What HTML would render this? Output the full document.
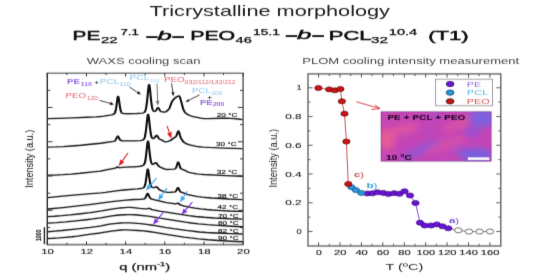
<!DOCTYPE html>
<html><head><meta charset="utf-8"><title>Tricrystalline morphology</title>
<style>
html,body{margin:0;padding:0;background:#fff;}
body{width:550px;height:280px;overflow:hidden;}
svg{display:block;font-family:'Liberation Sans', Arial, sans-serif;}
</style></head><body>
<svg width="550" height="280" viewBox="0 0 550 280">
<defs><filter id="gb" color-interpolation-filters="sRGB" x="0" y="0" width="550" height="280" filterUnits="userSpaceOnUse"><feConvolveMatrix order="3" kernelMatrix="0.010 0.118 0.010 0.053 0.618 0.053 0.010 0.118 0.010" edgeMode="duplicate" preserveAlpha="true"/></filter></defs>
<g filter="url(#gb)">
<rect width="550" height="280" fill="#fff"/>
<text x="149.6" y="16.3" font-size="13.9" fill="#1c1c1c" textLength="240.4" lengthAdjust="spacingAndGlyphs">Tricrystalline morphology</text>
<text x="72.6" y="39.7" font-size="12" fill="#0a0a0a" textLength="27.6" lengthAdjust="spacingAndGlyphs" stroke="#0a0a0a" stroke-width="0.45">PE</text>
<text x="100.9" y="42.8" font-size="8.8" fill="#0a0a0a" textLength="16.8" lengthAdjust="spacingAndGlyphs" stroke="#0a0a0a" stroke-width="0.25">22</text>
<text x="120.4" y="35.4" font-size="8.2" fill="#0a0a0a" textLength="18.4" lengthAdjust="spacingAndGlyphs" stroke="#0a0a0a" stroke-width="0.25">7.1</text>
<text x="145.6" y="41.8" font-size="18" fill="#0a0a0a" font-weight="bold" textLength="13.0" lengthAdjust="spacingAndGlyphs">–</text>
<text x="157.2" y="39.7" font-size="12.4" fill="#0a0a0a" font-style="italic" textLength="14.6" lengthAdjust="spacingAndGlyphs" stroke="#0a0a0a" stroke-width="0.4">b</text>
<text x="171.4" y="41.8" font-size="18" fill="#0a0a0a" font-weight="bold" textLength="13.2" lengthAdjust="spacingAndGlyphs">–</text>
<text x="190.2" y="39.7" font-size="12" fill="#0a0a0a" textLength="45" lengthAdjust="spacingAndGlyphs" stroke="#0a0a0a" stroke-width="0.45">PEO</text>
<text x="235.6" y="42.8" font-size="8.8" fill="#0a0a0a" textLength="16.2" lengthAdjust="spacingAndGlyphs" stroke="#0a0a0a" stroke-width="0.25">46</text>
<text x="253.0" y="35.0" font-size="8.2" fill="#0a0a0a" textLength="26.8" lengthAdjust="spacingAndGlyphs" stroke="#0a0a0a" stroke-width="0.25">15.1</text>
<text x="285.0" y="41.2" font-size="18" fill="#0a0a0a" font-weight="bold" textLength="13.0" lengthAdjust="spacingAndGlyphs">–</text>
<text x="297.0" y="39.2" font-size="12.4" fill="#0a0a0a" font-style="italic" textLength="14.4" lengthAdjust="spacingAndGlyphs" stroke="#0a0a0a" stroke-width="0.4">b</text>
<text x="311.4" y="41.2" font-size="18" fill="#0a0a0a" font-weight="bold" textLength="13.2" lengthAdjust="spacingAndGlyphs">–</text>
<text x="328.8" y="39.7" font-size="12" fill="#0a0a0a" textLength="42.8" lengthAdjust="spacingAndGlyphs" stroke="#0a0a0a" stroke-width="0.45">PCL</text>
<text x="371.0" y="42.8" font-size="8.8" fill="#0a0a0a" textLength="17" lengthAdjust="spacingAndGlyphs" stroke="#0a0a0a" stroke-width="0.25">32</text>
<text x="388.8" y="35.0" font-size="8.2" fill="#0a0a0a" textLength="28.4" lengthAdjust="spacingAndGlyphs" stroke="#0a0a0a" stroke-width="0.25">10.4</text>
<text x="428.2" y="39.7" font-size="12" fill="#0a0a0a" textLength="40.4" lengthAdjust="spacingAndGlyphs" stroke="#0a0a0a" stroke-width="0.45">(T1)</text>
<text x="86.8" y="63.6" font-size="8.8" fill="#444" textLength="113.6" lengthAdjust="spacingAndGlyphs">WAXS cooling scan</text>
<text x="302.2" y="63.6" font-size="8.8" fill="#444" textLength="217" lengthAdjust="spacingAndGlyphs">PLOM cooling intensity measurement</text>
<path d="M46.599999999999994 73.2H243.79999999999998M46.599999999999994 244.6H243.79999999999998" stroke="#7a7a7a" stroke-width="1.6" fill="none"/>
<path d="M47.3 73.2V244.6" stroke="#2a2a2a" stroke-width="1.4" fill="none"/>
<path d="M243.1 73.2V244.6" stroke="#555" stroke-width="1.4" fill="none"/>
<path d="M47.30 244.6v-3.2M47.30 73.2v3.2M66.88 244.6v-1.8M66.88 73.2v1.8M86.46 244.6v-3.2M86.46 73.2v3.2M106.04 244.6v-1.8M106.04 73.2v1.8M125.62 244.6v-3.2M125.62 73.2v3.2M145.20 244.6v-1.8M145.20 73.2v1.8M164.78 244.6v-3.2M164.78 73.2v3.2M184.36 244.6v-1.8M184.36 73.2v1.8M203.94 244.6v-3.2M203.94 73.2v3.2M223.52 244.6v-1.8M223.52 73.2v1.8M243.10 244.6v-3.2M243.10 73.2v3.2M47.3 90.34h3.0M243.1 90.34h-3.0M47.3 107.48h5.2M243.1 107.48h-5.2M47.3 124.62h3.0M243.1 124.62h-3.0M47.3 141.76h5.2M243.1 141.76h-5.2M47.3 158.90h3.0M243.1 158.90h-3.0M47.3 176.04h5.2M243.1 176.04h-5.2M47.3 193.18h3.0M243.1 193.18h-3.0M47.3 210.32h5.2M243.1 210.32h-5.2M47.3 227.46h3.0M243.1 227.46h-3.0" stroke="#333" stroke-width="1" fill="none"/>
<text x="47.599999999999994" y="254.1" font-size="8.0" fill="#1a1a1a" text-anchor="middle" textLength="12.6" lengthAdjust="spacingAndGlyphs" stroke="#1a1a1a" stroke-width="0.15">10</text>
<text x="86.76" y="254.1" font-size="8.0" fill="#1a1a1a" text-anchor="middle" textLength="12.6" lengthAdjust="spacingAndGlyphs" stroke="#1a1a1a" stroke-width="0.15">12</text>
<text x="125.92" y="254.1" font-size="8.0" fill="#1a1a1a" text-anchor="middle" textLength="12.6" lengthAdjust="spacingAndGlyphs" stroke="#1a1a1a" stroke-width="0.15">14</text>
<text x="165.08000000000004" y="254.1" font-size="8.0" fill="#1a1a1a" text-anchor="middle" textLength="12.6" lengthAdjust="spacingAndGlyphs" stroke="#1a1a1a" stroke-width="0.15">16</text>
<text x="204.24" y="254.1" font-size="8.0" fill="#1a1a1a" text-anchor="middle" textLength="12.6" lengthAdjust="spacingAndGlyphs" stroke="#1a1a1a" stroke-width="0.15">18</text>
<text x="243.40000000000003" y="254.1" font-size="8.0" fill="#1a1a1a" text-anchor="middle" textLength="12.6" lengthAdjust="spacingAndGlyphs" stroke="#1a1a1a" stroke-width="0.15">20</text>
<text x="119.2" y="269.9" font-size="9.8" fill="#1a1a1a" textLength="51" lengthAdjust="spacingAndGlyphs" stroke="#1a1a1a" stroke-width="0.25">q (nm<tspan dy="-4" font-size="6.2">-1</tspan><tspan dy="4">)</tspan></text>
<text transform="translate(32.9 187.8) rotate(-90)" font-size="10.4" fill="#111" textLength="58.0" lengthAdjust="spacingAndGlyphs">Intensity (a.u.)</text>
<path d="M44.4 227.3V244.2" stroke="#222" stroke-width="1.4"/>
<text transform="translate(41.0 241.0) rotate(-90)" font-size="6.6" fill="#111" stroke="#111" stroke-width="0.3" textLength="11.2" lengthAdjust="spacingAndGlyphs">1000</text>
<g fill="none" stroke="#111" stroke-width="1.35" stroke-linejoin="round" transform="scale(1.6 1)">
<path d="M29.87 118.58 37.05 118.30 45.18 117.88 54.52 117.29 59.94 116.83 62.92 116.49 64.95 116.11 68.61 115.17 69.83 114.79 70.64 114.47 71.18 114.09 71.59 113.49 71.86 112.74 72.13 111.52 72.40 109.67 72.67 107.12 73.48 97.77 73.62 96.82 73.75 96.32 73.89 96.33 74.16 97.82 74.97 106.95 75.38 110.33 75.79 112.20 76.06 112.85 76.33 113.21 76.87 113.51 78.09 113.67 79.98 113.71 83.23 113.64 85.54 113.53 87.30 113.37 88.65 113.11 89.60 112.77 90.01 112.49 90.28 112.19 90.68 111.37 91.09 109.70 91.36 107.81 91.90 101.51 92.85 86.54 92.98 85.31 93.12 84.65 93.26 84.63 93.39 85.24 93.66 88.08 94.47 101.07 94.88 105.99 95.15 108.19 95.42 109.64 95.83 110.81 96.23 111.29 96.51 111.40 96.78 111.37 97.18 111.06 97.59 110.33 98.40 108.14 98.67 107.77 98.81 107.76 98.94 107.87 99.21 108.40 100.03 110.60 100.30 111.09 100.70 111.53 101.11 111.74 101.52 111.86 102.87 112.04 103.41 111.90 103.95 111.47 104.77 110.43 105.71 108.78 106.12 107.44 107.34 102.19 107.75 101.09 108.42 99.61 109.24 98.24 110.32 96.99 110.86 96.47 111.27 96.17 111.67 96.00 111.94 95.96 112.08 96.07 112.22 96.37 112.49 97.39 113.43 102.50 114.38 108.29 114.65 109.47 115.19 111.24 115.74 112.54 116.55 113.67 117.63 114.77 118.99 115.73 120.21 116.36 121.56 116.88 125.49 118.15 127.25 118.53 128.06 118.59 129.69 118.57 138.35 118.23 142.01 118.22 144.04 118.36 146.21 118.61 148.65 118.99 151.62 119.55"/>
<path d="M29.87 147.18 34.61 146.95 39.49 146.55 44.77 145.98 50.60 145.22 63.05 143.28 70.77 141.40 71.18 141.27 71.59 141.04 71.86 140.77 72.13 140.33 72.53 139.29 73.21 136.89 73.48 136.25 73.62 136.15 73.75 136.21 74.02 136.75 74.70 138.99 75.11 139.96 75.51 140.47 76.06 140.74 77.00 140.85 78.90 140.90 84.86 140.82 87.57 140.61 88.38 140.45 89.06 140.20 89.60 139.77 90.01 139.08 90.41 137.67 90.68 136.07 91.22 130.61 92.17 116.77 92.44 114.65 92.58 114.40 92.71 114.73 92.98 116.96 93.80 128.71 94.34 134.57 94.61 136.33 94.88 137.47 95.15 138.14 95.29 138.34 95.56 138.56 95.69 138.59 95.96 138.52 96.37 138.11 96.64 137.64 97.45 135.83 97.72 135.50 97.86 135.46 98.00 135.51 98.27 135.88 99.35 138.48 99.62 138.93 100.03 139.39 100.97 140.02 102.33 141.29 103.01 141.76 103.41 141.87 103.82 141.85 104.77 141.54 105.99 140.83 106.93 140.14 108.69 137.93 109.78 136.72 110.05 136.22 110.32 135.46 111.27 131.33 111.40 131.03 111.54 130.98 111.67 131.20 111.81 131.67 112.49 135.47 112.89 137.33 113.16 138.19 114.52 141.70 114.92 142.34 116.01 143.38 117.09 144.13 118.45 144.81 120.61 145.68 122.64 146.31 124.54 146.73 126.98 147.06 130.90 147.43 139.98 148.08 146.07 148.45 151.62 148.69"/>
<path d="M29.87 175.20 34.48 175.06 39.35 174.70 44.50 174.12 50.19 173.29 58.31 171.88 62.65 171.06 64.00 170.73 69.56 168.89 71.99 168.17 72.40 167.92 73.08 167.14 73.35 166.99 73.62 167.10 74.30 167.60 74.57 167.66 74.97 167.65 78.63 167.20 84.05 166.76 85.94 166.55 87.70 166.22 88.92 165.75 89.60 165.23 90.01 164.60 90.41 163.31 90.68 161.81 90.95 159.57 91.22 156.49 92.04 144.44 92.31 141.72 92.44 141.13 92.58 141.16 92.85 142.97 93.66 154.62 94.07 159.35 94.34 161.45 94.75 163.30 95.15 164.11 95.42 164.31 95.69 164.33 95.96 164.19 96.23 163.92 97.05 162.79 97.32 162.65 97.45 162.69 97.59 162.80 97.86 163.23 98.81 165.40 99.49 166.45 100.30 167.21 102.74 168.86 103.82 169.38 104.63 169.50 106.12 169.42 108.42 169.18 108.97 169.08 109.37 168.89 109.78 168.37 110.05 167.69 110.45 165.97 111.00 163.04 111.27 162.16 111.40 162.09 111.54 162.28 111.67 162.72 112.62 167.52 112.89 168.33 113.16 168.83 113.57 169.20 114.38 169.56 115.06 169.99 116.96 171.57 117.63 172.06 118.17 172.34 119.66 172.91 121.42 173.48 123.19 173.92 124.67 174.19 127.25 174.51 141.06 175.61 151.62 176.28"/>
<path d="M29.87 197.61 37.59 196.31 45.86 195.07 55.06 193.84 63.19 192.89 65.90 192.37 73.89 190.57 77.27 190.04 85.94 188.86 87.84 188.49 89.06 188.08 89.60 187.75 90.01 187.26 90.41 186.23 90.68 184.98 90.95 183.08 91.22 180.44 92.04 170.69 92.17 169.68 92.31 169.13 92.44 169.12 92.58 169.64 92.85 171.98 93.39 178.68 93.80 182.82 94.07 184.68 94.47 186.32 94.75 186.90 95.02 187.24 95.42 187.53 95.83 187.67 96.23 187.66 96.51 187.56 97.45 186.82 97.72 186.79 97.86 186.87 98.13 187.18 98.94 188.69 99.49 189.49 100.16 190.15 101.11 190.78 103.28 191.85 103.95 192.11 104.63 192.28 105.17 192.33 106.66 192.29 108.15 192.19 108.97 192.07 109.51 191.78 109.91 191.22 110.32 190.16 110.86 188.31 111.13 187.74 111.27 187.68 111.40 187.80 111.54 188.08 112.49 191.21 112.76 191.76 113.16 192.20 114.65 192.90 116.55 194.08 117.36 194.51 119.80 195.42 121.97 196.12 124.00 196.65 126.16 197.08 129.01 197.54 132.26 197.96 143.09 199.04 147.56 199.37 151.62 199.59"/>
<path d="M29.87 209.03 39.35 207.56 50.05 205.67 57.10 204.33 69.83 201.65 74.16 200.83 78.90 200.09 81.74 199.71 84.05 199.50 88.24 199.26 89.60 199.08 90.01 198.94 90.28 198.75 90.68 198.20 91.09 197.15 91.90 194.05 92.17 193.50 92.31 193.48 92.58 193.94 93.39 196.92 93.80 197.95 94.07 198.38 94.34 198.65 95.02 199.07 96.78 199.90 102.74 202.15 104.23 202.61 109.51 203.83 110.05 203.75 110.86 203.23 111.13 203.18 111.27 203.24 111.54 203.50 112.49 204.74 113.16 205.20 115.33 206.08 119.12 207.31 121.83 208.04 125.49 208.83 129.14 209.50 132.53 210.00 138.35 210.57 143.63 210.99 147.83 211.22 151.62 211.30"/>
<path d="M29.87 216.66 34.21 216.25 38.81 215.68 43.82 214.94 49.24 214.01 56.28 212.69 58.45 212.22 63.46 210.95 69.96 209.08 72.94 208.35 74.70 208.04 78.09 207.60 79.85 207.44 81.47 207.40 83.23 207.57 87.30 208.36 90.95 208.86 91.77 208.83 92.17 208.70 92.85 208.36 93.26 208.30 93.66 208.52 94.61 209.34 95.15 209.64 99.62 211.09 104.90 212.46 117.90 215.65 122.10 216.53 127.52 217.29 133.88 217.96 143.63 218.74 151.62 219.19"/>
<path d="M29.87 223.16 35.29 222.61 41.12 221.85 47.48 220.85 55.06 219.52 58.04 218.94 62.92 217.80 69.96 215.93 73.21 215.24 74.84 215.02 78.22 214.72 80.25 214.61 82.01 214.61 83.91 214.74 85.94 214.99 92.44 216.14 94.61 216.68 99.89 218.17 115.87 222.14 119.66 222.99 124.13 223.85 129.55 224.67 135.92 225.44 144.31 226.24 151.62 226.78"/>
<path d="M29.87 231.74 34.21 231.19 38.68 230.54 48.56 228.86 56.55 227.34 60.21 226.55 63.19 225.82 67.66 224.46 69.69 223.96 73.21 223.30 75.24 223.00 77.00 222.83 78.76 222.81 81.47 222.95 85.54 223.32 87.97 223.69 91.63 224.37 95.29 225.22 103.95 227.62 108.42 228.71 116.41 230.44 124.67 231.98 129.14 232.52 134.97 233.02 144.04 233.62 151.62 233.99"/>
<path d="M29.87 238.48 33.13 238.26 36.78 237.90 41.12 237.36 45.18 236.77 48.43 236.12 55.74 234.41 62.65 232.97 68.61 231.31 70.77 230.80 75.79 230.04 77.41 229.91 79.04 229.91 81.61 230.06 86.21 230.48 89.60 230.94 92.85 231.49 96.64 232.35 104.90 234.56 114.92 237.06 118.99 237.95 124.00 238.85 130.09 239.74 136.32 240.48 144.58 241.26 151.62 241.78"/>
</g>
<text x="216.8" y="116.60000000000001" font-size="5.9" fill="#111" textLength="20.6" lengthAdjust="spacingAndGlyphs" stroke="#111" stroke-width="0.15">20 °C</text>
<text x="216.0" y="146.4" font-size="5.9" fill="#111" textLength="20.6" lengthAdjust="spacingAndGlyphs" stroke="#111" stroke-width="0.15">30 °C</text>
<text x="216.7" y="174.4" font-size="5.9" fill="#111" textLength="20.6" lengthAdjust="spacingAndGlyphs" stroke="#111" stroke-width="0.15">32 °C</text>
<text x="217.5" y="197.8" font-size="5.9" fill="#111" textLength="20.6" lengthAdjust="spacingAndGlyphs" stroke="#111" stroke-width="0.15">38 °C</text>
<text x="217.5" y="209.3" font-size="5.9" fill="#111" textLength="20.6" lengthAdjust="spacingAndGlyphs" stroke="#111" stroke-width="0.15">42 °C</text>
<text x="218.0" y="217.6" font-size="5.9" fill="#111" textLength="20.6" lengthAdjust="spacingAndGlyphs" stroke="#111" stroke-width="0.15">70 °C</text>
<text x="218.0" y="224.9" font-size="5.9" fill="#111" textLength="20.6" lengthAdjust="spacingAndGlyphs" stroke="#111" stroke-width="0.15">80 °C</text>
<text x="218.0" y="232.8" font-size="5.9" fill="#111" textLength="20.6" lengthAdjust="spacingAndGlyphs" stroke="#111" stroke-width="0.15">82 °C</text>
<text x="218.0" y="240.20000000000002" font-size="5.9" fill="#111" textLength="20.6" lengthAdjust="spacingAndGlyphs" stroke="#111" stroke-width="0.15">90 °C</text>
<text x="67.0" y="84.3" font-size="6.3" fill="#9468e0" font-weight="bold" textLength="12.9" lengthAdjust="spacingAndGlyphs">PE</text>
<text x="80.8" y="85.9" font-size="4.5" fill="#9468e0" font-weight="bold" textLength="11.0" lengthAdjust="spacingAndGlyphs">110</text>
<text x="94.4" y="84.4" font-size="6" fill="#222" font-weight="bold" textLength="4.4" lengthAdjust="spacingAndGlyphs">+</text>
<text x="99.8" y="84.3" font-size="6.3" fill="#86c8ee" textLength="19.4" lengthAdjust="spacingAndGlyphs">PCL</text>
<text x="119.6" y="85.9" font-size="4.5" fill="#86c8ee" textLength="11.2" lengthAdjust="spacingAndGlyphs">110</text>
<text x="129.6" y="80.2" font-size="6.3" fill="#86c8ee" textLength="19.8" lengthAdjust="spacingAndGlyphs">PCL</text>
<text x="150.0" y="82.0" font-size="4.3" fill="#86c8ee" textLength="10.0" lengthAdjust="spacingAndGlyphs">111</text>
<text x="164.0" y="82.0" font-size="6.3" fill="#e2646e" textLength="20.8" lengthAdjust="spacingAndGlyphs">PEO</text>
<text x="184.6" y="84.0" font-size="4.7" fill="#e2646e" textLength="51.0" lengthAdjust="spacingAndGlyphs">032/112/132/212</text>
<text x="192.0" y="92.6" font-size="6.3" fill="#86c8ee" textLength="18.8" lengthAdjust="spacingAndGlyphs">PCL</text>
<text x="211.2" y="94.7" font-size="4.6" fill="#86c8ee" textLength="11.2" lengthAdjust="spacingAndGlyphs">200</text>
<text x="207.4" y="99.4" font-size="6" fill="#222" font-weight="bold" textLength="4.4" lengthAdjust="spacingAndGlyphs">+</text>
<text x="200.0" y="104.7" font-size="6.3" fill="#9468e0" font-weight="bold" textLength="12.6" lengthAdjust="spacingAndGlyphs">PE</text>
<text x="212.9" y="106.4" font-size="4.5" fill="#9468e0" font-weight="bold" textLength="11.6" lengthAdjust="spacingAndGlyphs">200</text>
<text x="65.6" y="98.4" font-size="6.3" fill="#e2646e" textLength="20.6" lengthAdjust="spacingAndGlyphs">PEO</text>
<text x="87.0" y="99.9" font-size="4.6" fill="#e2646e" textLength="10.9" lengthAdjust="spacingAndGlyphs">120</text>
<path d="M99.50 100.40L110.14 103.34" stroke="#111" stroke-width="0.8" fill="none"/><path d="M114.00 104.40L109.72 104.88L110.57 101.79Z" fill="#111"/>
<path d="M129.50 87.10L137.65 92.41" stroke="#111" stroke-width="0.8" fill="none"/><path d="M141.00 94.60L136.78 93.76L138.52 91.07Z" fill="#111"/>
<path d="M157.00 83.40L157.64 100.90" stroke="#6a6a6a" stroke-width="0.9" fill="none"/><path d="M157.80 105.40L155.84 100.97L159.44 100.84Z" fill="#6a6a6a"/>
<path d="M171.60 83.40L172.84 92.24" stroke="#111" stroke-width="0.8" fill="none"/><path d="M173.40 96.20L171.26 92.46L174.43 92.02Z" fill="#111"/>
<path d="M199.60 94.80L188.80 100.35" stroke="#111" stroke-width="0.8" fill="none"/><path d="M185.60 102.00L188.16 99.11L189.44 101.60Z" fill="#111"/>
<path d="M167.10 125.80L169.36 132.63" stroke="#e02020" stroke-width="1.1" fill="none"/><path d="M171.40 138.80L166.99 133.41L171.73 131.84Z" fill="#e02020"/>
<path d="M128.00 153.00L122.37 160.91" stroke="#e02020" stroke-width="1.1" fill="none"/><path d="M118.60 166.20L120.33 159.46L124.41 162.36Z" fill="#e02020"/>
<path d="M156.50 178.20L149.91 185.85" stroke="#3aa8ee" stroke-width="1.1" fill="none"/><path d="M146.00 190.40L148.02 184.22L151.81 187.48Z" fill="#3aa8ee"/>
<path d="M167.00 188.10L161.58 195.39" stroke="#3aa8ee" stroke-width="1.1" fill="none"/><path d="M158.00 200.20L159.57 193.89L163.59 196.88Z" fill="#3aa8ee"/>
<path d="M187.40 191.20L183.35 197.22" stroke="#3aa8ee" stroke-width="1.1" fill="none"/><path d="M180.00 202.20L181.27 195.83L185.42 198.62Z" fill="#3aa8ee"/>
<path d="M192.40 202.10L185.52 210.06" stroke="#7a2fe0" stroke-width="1.1" fill="none"/><path d="M181.60 214.60L183.63 208.43L187.41 211.69Z" fill="#7a2fe0"/>
<path d="M162.90 212.80L156.90 219.84" stroke="#7a2fe0" stroke-width="1.1" fill="none"/><path d="M153.00 224.40L154.99 218.21L158.80 221.46Z" fill="#7a2fe0"/>
<rect x="308.0" y="73.9" width="192.8" height="172.1" fill="none" stroke="#5a5a5a" stroke-width="1.3"/>
<path d="M318.60 246.0v-3.8M318.60 73.9v3.8M329.31 246.0v-2.2M329.31 73.9v2.2M340.01 246.0v-3.8M340.01 73.9v3.8M350.72 246.0v-2.2M350.72 73.9v2.2M361.42 246.0v-3.8M361.42 73.9v3.8M372.13 246.0v-2.2M372.13 73.9v2.2M382.84 246.0v-3.8M382.84 73.9v3.8M393.54 246.0v-2.2M393.54 73.9v2.2M404.25 246.0v-3.8M404.25 73.9v3.8M414.95 246.0v-2.2M414.95 73.9v2.2M425.66 246.0v-3.8M425.66 73.9v3.8M436.37 246.0v-2.2M436.37 73.9v2.2M447.07 246.0v-3.8M447.07 73.9v3.8M457.78 246.0v-2.2M457.78 73.9v2.2M468.48 246.0v-3.8M468.48 73.9v3.8M479.19 246.0v-2.2M479.19 73.9v2.2M489.90 246.0v-3.8M489.90 73.9v3.8M308.0 231.50h4.6M500.8 231.50h-4.6M308.0 217.12h2.4M500.8 217.12h-2.4M308.0 202.75h4.6M500.8 202.75h-4.6M308.0 188.38h2.4M500.8 188.38h-2.4M308.0 174.00h4.6M500.8 174.00h-4.6M308.0 159.62h2.4M500.8 159.62h-2.4M308.0 145.25h4.6M500.8 145.25h-4.6M308.0 130.88h2.4M500.8 130.88h-2.4M308.0 116.50h4.6M500.8 116.50h-4.6M308.0 102.12h2.4M500.8 102.12h-2.4M308.0 87.75h4.6M500.8 87.75h-4.6" stroke="#5a5a5a" stroke-width="1" fill="none"/>
<text x="318.8" y="255.4" font-size="6.6" fill="#1a1a1a" text-anchor="middle" textLength="5.8" lengthAdjust="spacingAndGlyphs" stroke="#1a1a1a" stroke-width="0.12">0</text>
<text x="340.212" y="255.4" font-size="6.6" fill="#1a1a1a" text-anchor="middle" textLength="12.4" lengthAdjust="spacingAndGlyphs" stroke="#1a1a1a" stroke-width="0.12">20</text>
<text x="361.624" y="255.4" font-size="6.6" fill="#1a1a1a" text-anchor="middle" textLength="12.4" lengthAdjust="spacingAndGlyphs" stroke="#1a1a1a" stroke-width="0.12">40</text>
<text x="383.036" y="255.4" font-size="6.6" fill="#1a1a1a" text-anchor="middle" textLength="12.4" lengthAdjust="spacingAndGlyphs" stroke="#1a1a1a" stroke-width="0.12">60</text>
<text x="404.44800000000004" y="255.4" font-size="6.6" fill="#1a1a1a" text-anchor="middle" textLength="12.4" lengthAdjust="spacingAndGlyphs" stroke="#1a1a1a" stroke-width="0.12">80</text>
<text x="425.86" y="255.4" font-size="6.6" fill="#1a1a1a" text-anchor="middle" textLength="18.6" lengthAdjust="spacingAndGlyphs" stroke="#1a1a1a" stroke-width="0.12">100</text>
<text x="447.272" y="255.4" font-size="6.6" fill="#1a1a1a" text-anchor="middle" textLength="18.6" lengthAdjust="spacingAndGlyphs" stroke="#1a1a1a" stroke-width="0.12">120</text>
<text x="468.684" y="255.4" font-size="6.6" fill="#1a1a1a" text-anchor="middle" textLength="18.6" lengthAdjust="spacingAndGlyphs" stroke="#1a1a1a" stroke-width="0.12">140</text>
<text x="490.096" y="255.4" font-size="6.6" fill="#1a1a1a" text-anchor="middle" textLength="18.6" lengthAdjust="spacingAndGlyphs" stroke="#1a1a1a" stroke-width="0.12">160</text>
<text x="301.6" y="234.0" font-size="7.2" fill="#1a1a1a" text-anchor="end" textLength="5.2" lengthAdjust="spacingAndGlyphs" stroke="#1a1a1a" stroke-width="0.1">0</text>
<text x="301.6" y="205.25" font-size="7.2" fill="#1a1a1a" text-anchor="end" textLength="16.4" lengthAdjust="spacingAndGlyphs" stroke="#1a1a1a" stroke-width="0.1">0.2</text>
<text x="301.6" y="176.5" font-size="7.2" fill="#1a1a1a" text-anchor="end" textLength="16.4" lengthAdjust="spacingAndGlyphs" stroke="#1a1a1a" stroke-width="0.1">0.4</text>
<text x="301.6" y="147.75" font-size="7.2" fill="#1a1a1a" text-anchor="end" textLength="16.4" lengthAdjust="spacingAndGlyphs" stroke="#1a1a1a" stroke-width="0.1">0.6</text>
<text x="301.6" y="119.0" font-size="7.2" fill="#1a1a1a" text-anchor="end" textLength="16.4" lengthAdjust="spacingAndGlyphs" stroke="#1a1a1a" stroke-width="0.1">0.8</text>
<text x="301.6" y="90.25" font-size="7.2" fill="#1a1a1a" text-anchor="end" textLength="5.2" lengthAdjust="spacingAndGlyphs" stroke="#1a1a1a" stroke-width="0.1">1</text>
<text x="385.4" y="269.9" font-size="8.8" fill="#222" textLength="38.0" lengthAdjust="spacingAndGlyphs">T (ºC)</text>
<text transform="translate(276.6 187.6) rotate(-90)" font-size="10.2" fill="#222" textLength="58.6" lengthAdjust="spacingAndGlyphs">Intensity (a.u.)</text>
<defs><filter id="fb" x="-20%" y="-20%" width="140%" height="140%"><feGaussianBlur stdDeviation="3.2"/></filter><clipPath id="ic"><rect x="381.0" y="111.8" width="110.19999999999999" height="49.39999999999999"/></clipPath></defs>
<g clip-path="url(#ic)"><rect x="381.0" y="111.8" width="110.19999999999999" height="49.39999999999999" fill="#c444b6"/>
<g filter="url(#fb)">
<ellipse cx="387" cy="139" rx="8" ry="11" fill="#ea5e92" fill-opacity="0.9"/>
<ellipse cx="402" cy="130" rx="18" ry="5" fill="#e2589c" fill-opacity="0.8" transform="rotate(-15 402 130)"/>
<ellipse cx="392" cy="118" rx="7" ry="4" fill="#d452a8" fill-opacity="0.6"/>
<ellipse cx="455" cy="126" rx="14" ry="4" fill="#de58a0" fill-opacity="0.75" transform="rotate(-15 455 126)"/>
<ellipse cx="464" cy="121" rx="7" ry="4" fill="#e05a9a" fill-opacity="0.6"/>
<ellipse cx="482" cy="118" rx="13" ry="9" fill="#7662e2" fill-opacity="0.95"/>
<ellipse cx="472" cy="132" rx="9" ry="6" fill="#8e54d6" fill-opacity="0.75"/>
<ellipse cx="436" cy="116" rx="8" ry="4" fill="#a24ec8" fill-opacity="0.55"/>
<ellipse cx="420" cy="150" rx="22" ry="4" fill="#8a58d8" fill-opacity="0.85" transform="rotate(-25 420 150)"/>
<ellipse cx="447" cy="144" rx="22" ry="4" fill="#de58a0" fill-opacity="0.65" transform="rotate(-20 447 144)"/>
<ellipse cx="476" cy="155" rx="17" ry="7" fill="#7262e0" fill-opacity="0.92"/>
<ellipse cx="460" cy="150" rx="8" ry="4" fill="#8a5ad6" fill-opacity="0.6"/>
<ellipse cx="388" cy="157" rx="8" ry="4" fill="#c84cb2" fill-opacity="0.6"/>
<ellipse cx="430" cy="130" rx="5" ry="6" fill="#a850c4" fill-opacity="0.5"/>
</g></g>
<rect x="381.0" y="111.8" width="110.19999999999999" height="49.39999999999999" fill="none" stroke="#5a3a70" stroke-width="0.5"/>
<text transform="translate(387.4 120.0) scale(1.45 1)" x="0" y="0" font-size="6.6" font-weight="bold" fill="#1e0824" stroke="#1e0824" stroke-width="0.12" textLength="53.6" lengthAdjust="spacing">PE + PCL + PEO</text>
<text transform="translate(386.2 159.9) scale(1.45 1)" x="0" y="0" font-size="6.8" font-weight="bold" fill="#1e0824" stroke="#1e0824" stroke-width="0.12" textLength="17.6" lengthAdjust="spacing">10 °C</text>
<rect x="467.8" y="157.4" width="21.6" height="2.5" fill="#fff"/>
<path d="M356.4 101.8L380 108.6M375 105L380 108.6L371.4 109.5" stroke="#d83030" stroke-width="0.9" fill="none" stroke-linejoin="round"/>
<rect x="435.6" y="79.2" width="57" height="26.6" fill="#fff" stroke="#8a8a8a" stroke-width="0.8"/>
<ellipse cx="450.1" cy="84.0" rx="3.9" ry="2.6" fill="#6a18d8" stroke="#2a0a60" stroke-width="0.8"/>
<ellipse cx="450.1" cy="92.6" rx="3.9" ry="2.6" fill="#2a98dc" stroke="#0a3a60" stroke-width="0.8"/>
<ellipse cx="450.1" cy="101.3" rx="3.9" ry="2.6" fill="#c41414" stroke="#4a0606" stroke-width="0.8"/>
<text x="466.8" y="86.7" font-size="7.0" fill="#9068dc" textLength="14.2" lengthAdjust="spacingAndGlyphs">PE</text>
<text x="466.8" y="95.3" font-size="7.0" fill="#5cb4e6" textLength="21.6" lengthAdjust="spacingAndGlyphs">PCL</text>
<text x="466.8" y="104.0" font-size="7.0" fill="#d45454" textLength="23.0" lengthAdjust="spacingAndGlyphs">PEO</text>
<polyline points="318.4,88.0 329.2,89.4 334.9,90.3 340.4,89.0 341.9,101.3 344.5,113.7 346.4,141.6 348.3,184.0 351.5,187.2" fill="none" stroke="#d04040" stroke-width="0.9"/>
<polyline points="351.5,187.2 355.9,190.1 361.3,192.9 367.4,193.5" fill="none" stroke="#3a9ad8" stroke-width="0.9"/>
<polyline points="367.4,193.5 372.5,193.3 377.5,192.3 383.3,192.9 388.4,193.9 394.1,193.2 399.5,193.8 404.5,191.3 410.0,195.4 415.5,203.0 420.0,222.7 424.7,225.5 431.1,225.5 436.8,224.4 442.5,226.3 448.3,228.3" fill="none" stroke="#7a40d8" stroke-width="0.9"/>
<polyline points="448.3,228.3 458.3,230.3 469.0,231.6 479.6,231.6 490.0,231.5" fill="none" stroke="#444" stroke-width="0.7"/>
<ellipse cx="458.3" cy="230.3" rx="3.7" ry="2.5" fill="#fff" stroke="#333" stroke-width="0.7"/><ellipse cx="469.0" cy="231.6" rx="3.7" ry="2.5" fill="#fff" stroke="#333" stroke-width="0.7"/><ellipse cx="479.6" cy="231.6" rx="3.7" ry="2.5" fill="#fff" stroke="#333" stroke-width="0.7"/><ellipse cx="490.0" cy="231.5" rx="3.7" ry="2.5" fill="#fff" stroke="#333" stroke-width="0.7"/>
<ellipse cx="367.4" cy="193.5" rx="3.7" ry="2.5" fill="#6a12d8" stroke="#3a0a78" stroke-width="0.7"/><ellipse cx="372.5" cy="193.3" rx="3.7" ry="2.5" fill="#6a12d8" stroke="#3a0a78" stroke-width="0.7"/><ellipse cx="377.5" cy="192.3" rx="3.7" ry="2.5" fill="#6a12d8" stroke="#3a0a78" stroke-width="0.7"/><ellipse cx="383.3" cy="192.9" rx="3.7" ry="2.5" fill="#6a12d8" stroke="#3a0a78" stroke-width="0.7"/><ellipse cx="388.4" cy="193.9" rx="3.7" ry="2.5" fill="#6a12d8" stroke="#3a0a78" stroke-width="0.7"/><ellipse cx="394.1" cy="193.2" rx="3.7" ry="2.5" fill="#6a12d8" stroke="#3a0a78" stroke-width="0.7"/><ellipse cx="399.5" cy="193.8" rx="3.7" ry="2.5" fill="#6a12d8" stroke="#3a0a78" stroke-width="0.7"/><ellipse cx="404.5" cy="191.3" rx="3.7" ry="2.5" fill="#6a12d8" stroke="#3a0a78" stroke-width="0.7"/><ellipse cx="410.0" cy="195.4" rx="3.7" ry="2.5" fill="#6a12d8" stroke="#3a0a78" stroke-width="0.7"/><ellipse cx="415.5" cy="203.0" rx="3.7" ry="2.5" fill="#6a12d8" stroke="#3a0a78" stroke-width="0.7"/><ellipse cx="420.0" cy="222.7" rx="3.7" ry="2.5" fill="#6a12d8" stroke="#3a0a78" stroke-width="0.7"/><ellipse cx="424.7" cy="225.5" rx="3.7" ry="2.5" fill="#6a12d8" stroke="#3a0a78" stroke-width="0.7"/><ellipse cx="431.1" cy="225.5" rx="3.7" ry="2.5" fill="#6a12d8" stroke="#3a0a78" stroke-width="0.7"/><ellipse cx="436.8" cy="224.4" rx="3.7" ry="2.5" fill="#6a12d8" stroke="#3a0a78" stroke-width="0.7"/><ellipse cx="442.5" cy="226.3" rx="3.7" ry="2.5" fill="#6a12d8" stroke="#3a0a78" stroke-width="0.7"/><ellipse cx="448.3" cy="228.3" rx="3.7" ry="2.5" fill="#6a12d8" stroke="#3a0a78" stroke-width="0.7"/>
<ellipse cx="351.5" cy="187.2" rx="3.7" ry="2.5" fill="#2a98dc" stroke="#10507a" stroke-width="0.7"/><ellipse cx="355.9" cy="190.1" rx="3.7" ry="2.5" fill="#2a98dc" stroke="#10507a" stroke-width="0.7"/><ellipse cx="361.3" cy="192.9" rx="3.7" ry="2.5" fill="#2a98dc" stroke="#10507a" stroke-width="0.7"/>
<ellipse cx="318.4" cy="88.0" rx="3.7" ry="2.5" fill="#cc1414" stroke="#5a0808" stroke-width="0.7"/><ellipse cx="329.2" cy="89.4" rx="3.7" ry="2.5" fill="#cc1414" stroke="#5a0808" stroke-width="0.7"/><ellipse cx="334.9" cy="90.3" rx="3.7" ry="2.5" fill="#cc1414" stroke="#5a0808" stroke-width="0.7"/><ellipse cx="340.4" cy="89.0" rx="3.7" ry="2.5" fill="#cc1414" stroke="#5a0808" stroke-width="0.7"/><ellipse cx="341.9" cy="101.3" rx="3.7" ry="2.5" fill="#cc1414" stroke="#5a0808" stroke-width="0.7"/><ellipse cx="344.5" cy="113.7" rx="3.7" ry="2.5" fill="#cc1414" stroke="#5a0808" stroke-width="0.7"/><ellipse cx="346.4" cy="141.6" rx="3.7" ry="2.5" fill="#cc1414" stroke="#5a0808" stroke-width="0.7"/><ellipse cx="348.3" cy="184.0" rx="3.7" ry="2.5" fill="#cc1414" stroke="#5a0808" stroke-width="0.7"/>
<text x="449.0" y="222.7" font-size="7.2" fill="#7a4ed4" textLength="10.2" lengthAdjust="spacingAndGlyphs"><tspan font-weight="bold">a</tspan>)</text>
<text x="366.4" y="187.9" font-size="7.0" fill="#3e9ed8" textLength="11.2" lengthAdjust="spacingAndGlyphs"><tspan font-weight="bold">b</tspan>)</text>
<text x="354.0" y="177.0" font-size="7.0" fill="#cc4a4a" textLength="10.0" lengthAdjust="spacingAndGlyphs"><tspan font-weight="bold">c</tspan>)</text>
</g>
</svg>
</body></html>
